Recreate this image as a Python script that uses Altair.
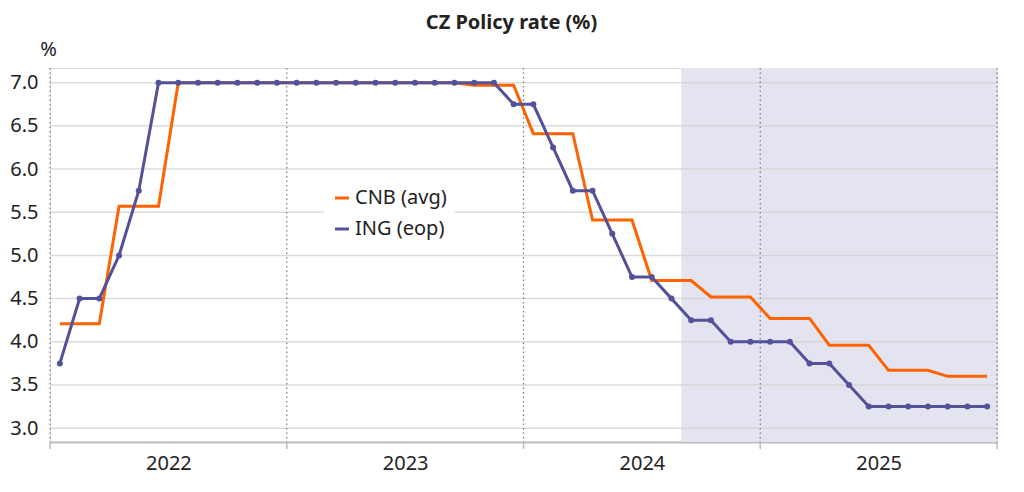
import altair as alt
import pandas as pd

# Monthly index 0 = Jan 2022 ... 47 = Dec 2025
month_idx = list(range(48))
years = ["2022", "2023", "2024", "2025"]
year_bounds = [0, 12, 24, 36, 48]
y_ticks = [3.0, 3.5, 4.0, 4.5, 5.0, 5.5, 6.0, 6.5, 7.0]
forecast_start = [32]
forecast_end = [48]

cnb_avg = [4.21, 4.21, 4.21, 5.57, 5.57, 5.57, 7.0, 7.0, 7.0, 7.0, 7.0, 7.0,
           7.0, 7.0, 7.0, 7.0, 7.0, 7.0, 7.0, 7.0, 7.0, 6.97, 6.97, 6.97,
           6.41, 6.41, 6.41, 5.41, 5.41, 5.41, 4.71, 4.71, 4.71, 4.52, 4.52, 4.52,
           4.27, 4.27, 4.27, 3.96, 3.96, 3.96, 3.67, 3.67, 3.67, 3.60, 3.60, 3.60]
ing_eop = [3.75, 4.5, 4.5, 5.0, 5.75, 7.0, 7.0, 7.0, 7.0, 7.0, 7.0, 7.0,
           7.0, 7.0, 7.0, 7.0, 7.0, 7.0, 7.0, 7.0, 7.0, 7.0, 7.0, 6.75,
           6.75, 6.25, 5.75, 5.75, 5.25, 4.75, 4.75, 4.5, 4.25, 4.25, 4.0, 4.0,
           4.0, 4.0, 3.75, 3.75, 3.5, 3.25, 3.25, 3.25, 3.25, 3.25, 3.25, 3.25]
series_names = ["CNB (avg)", "ING (eop)"]
series_colors = ["#FF6200", "#525199"]

W, H = 947, 374
FONT = "Noto Sans"

rows = []
for name, vals in zip(series_names, [cnb_avg, ing_eop]):
    for m, v in zip(month_idx, vals):
        rows.append({"m": m + 0.5, "v": v, "series": name})
lines_df = pd.DataFrame(rows)
ing_df = lines_df[lines_df.series == "ING (eop)"]

xs = alt.Scale(domain=[0, 48], nice=False, zero=False)
ys = alt.Scale(domain=[2.84, 7.17], nice=False, zero=False)

x_axis = alt.Axis(values=[6, 18, 30, 42],
                  labelExpr="'' + (2022 + floor(datum.value / 12))",
                  ticks=False, grid=False, domain=True, domainColor="#bbbbbb",
                  domainWidth=2, labelFontSize=20, labelPadding=11,
                  labelColor="#222222", title=None, labelFont=FONT)
y_axis = alt.Axis(values=y_ticks, format=".1f", ticks=False, grid=False,
                  domain=False, labelFontSize=20, labelPadding=12,
                  labelColor="#222222", labelFont=FONT,
                  title="%", titleAngle=0, titleAlign="center",
                  titleBaseline="bottom", titleX=-2, titleY=-9,
                  titleFontSize=20, titleFontWeight="normal",
                  titleColor="#222222", titleFont=FONT)

shade = alt.Chart(pd.DataFrame({"s": forecast_start, "e": forecast_end})).mark_rect(
    color="#e4e4f0").encode(
    x=alt.X("s:Q", scale=xs, axis=x_axis), x2="e:Q",
    y=alt.value(0), y2=alt.value(H))

hgrid = alt.Chart(pd.DataFrame({"g": y_ticks})).mark_rule(
    color="#d2d2d2", strokeWidth=1.5, opacity=0.8).encode(
    y=alt.Y("g:Q", scale=ys, axis=y_axis))

vgrid = alt.Chart(pd.DataFrame({"b": year_bounds})).mark_rule(
    color="#777777", strokeWidth=1.2, strokeDash=[1.5, 3]).encode(
    x=alt.X("b:Q", scale=xs, axis=x_axis))

xticks = alt.Chart(pd.DataFrame({"b": year_bounds})).mark_rule(
    color="#bbbbbb", strokeWidth=1.5).encode(
    x=alt.X("b:Q", scale=xs, axis=x_axis),
    y=alt.value(H), y2=alt.value(H + 7))

lines = alt.Chart(lines_df).mark_line(strokeWidth=3).encode(
    x=alt.X("m:Q", scale=xs, axis=x_axis),
    y=alt.Y("v:Q", scale=ys, axis=y_axis),
    color=alt.Color("series:N",
                    scale=alt.Scale(domain=series_names, range=series_colors),
                    legend=alt.Legend(title=None, orient="none", legendX=274,
                                      legendY=112, fillColor="white",
                                      padding=8, labelFontSize=20,
                                      labelFont=FONT, labelColor="#222222",
                                      symbolType="stroke", symbolStrokeWidth=3,
                                      symbolSize=196, rowPadding=11,
                                      labelOffset=3)),
    order=alt.Order("m:Q"))

points = alt.Chart(ing_df).mark_circle(size=36, color="#525199", opacity=1).encode(
    x=alt.X("m:Q", scale=xs, axis=x_axis),
    y=alt.Y("v:Q", scale=ys, axis=y_axis))

chart = alt.layer(shade, hgrid, vgrid, xticks, lines, points).properties(
    width=W, height=H,
    title=alt.TitleParams("CZ Policy rate (%)", fontSize=20, fontWeight="bold",
                          font=FONT, color="#222222", anchor="middle",
                          offset=6, dx=-12),
    autosize=alt.AutoSizeParams(type="none"),
    padding={"left": 50, "top": 68, "right": 27, "bottom": 50},
).configure_view(stroke=None).configure(font=FONT)

chart.save("out.html", embed_options={"renderer": "svg", "actions": False})
